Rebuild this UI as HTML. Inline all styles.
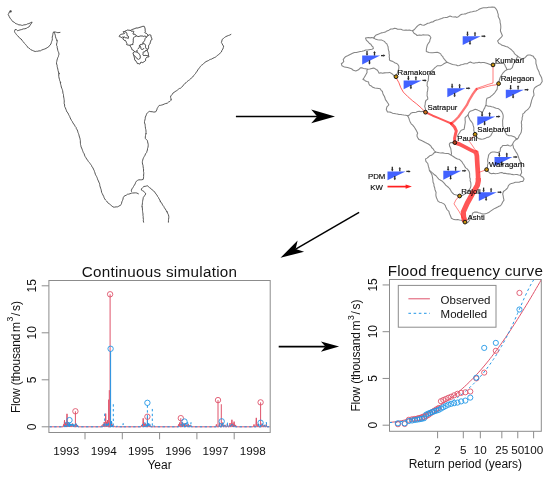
<!DOCTYPE html><html><head><meta charset="utf-8"><style>html,body{margin:0;padding:0;background:#fff;}svg{display:block;}text{font-family:'Liberation Sans', Arial, Helvetica, sans-serif;}</style></head><body>
<svg width="550" height="477" viewBox="0 0 550 477">
<rect width="550" height="477" fill="#fff"/>
<g fill="none" stroke="#4d4d4d" stroke-width="0.95" stroke-linejoin="round" stroke-linecap="round">
<polyline points="10.70,11.30 9.40,11.90 8.88,13.19 8.20,14.40 9.10,16.30 10.10,18.20 11.14,19.35 11.90,20.70 12.92,21.59 14.16,22.20 15.10,23.20 16.36,23.78 17.66,24.27 18.90,24.90 20.16,24.85 21.37,25.24 22.60,25.40 23.81,24.87 25.13,24.77 26.40,24.50 27.58,23.85 28.90,23.60 30.80,22.60 32.10,22.00 31.64,23.14 30.87,24.09 30.20,25.10 28.90,27.00 27.57,27.51 26.40,28.30 24.89,28.78 23.30,28.90 21.74,29.53 20.10,29.90 18.83,30.29 17.60,30.80 16.40,29.50 15.10,29.50 14.50,31.40 14.94,32.58 15.73,33.55 16.40,34.60 17.69,35.81 18.90,37.10 19.76,38.30 21.13,39.01 22.00,40.20 22.69,41.38 23.75,42.27 24.50,43.40 25.47,44.32 26.32,45.35 27.00,46.50 28.01,47.23 28.80,48.22 29.95,48.78 30.80,49.70 32.25,50.34 33.71,50.96 35.20,51.50 36.47,51.29 37.75,51.22 39.00,50.83 40.30,50.90 41.68,50.06 43.18,49.50 44.70,49.00 45.97,48.45 47.15,47.70 48.40,47.10 49.16,46.01 50.10,45.06 50.90,44.00 51.31,42.73 51.67,41.43 52.20,40.20 52.35,38.65 52.20,37.10 52.60,35.87 52.80,34.60 53.03,33.27 53.50,32.00 55.30,32.00 56.59,32.39 57.90,32.70 60.00,32.40"/>
<polyline points="54.20,32.20 54.74,33.70 55.30,35.20 55.47,36.79 56.00,38.30 56.50,39.60 57.20,40.80 57.00,42.42 56.60,44.00 56.56,45.30 57.19,46.50 57.20,47.80 57.57,49.02 57.74,50.30 58.20,51.50 58.77,52.80 59.00,54.20 58.61,55.34 58.42,56.54 57.80,57.60 57.39,58.85 57.02,60.12 56.79,61.42 56.50,62.70 56.58,64.02 57.11,65.24 57.18,66.56 57.49,67.83 57.80,69.10 58.09,70.58 58.49,72.03 58.80,73.50 58.73,75.01 58.78,76.51 59.10,78.00 59.44,79.27 59.67,80.57 60.29,81.77 60.40,83.10 60.68,84.41 61.09,85.68 61.30,87.01 61.77,88.27 62.30,89.50 62.65,90.74 62.84,92.01 62.94,93.30 63.49,94.50 63.50,95.80 63.66,97.08 63.94,98.34 64.11,99.62 64.28,100.90 64.20,102.20 64.20,103.61 64.65,104.98 64.60,106.40 65.35,107.82 65.92,109.31 66.50,110.80 66.98,112.03 67.96,112.98 68.44,114.21 69.04,115.37 69.70,116.50 70.17,117.87 70.84,119.13 71.46,120.42 72.36,121.57 72.90,122.90 73.73,124.00 74.56,125.11 75.14,126.39 76.10,127.40 76.36,128.75 77.21,129.89 77.68,131.17 78.00,132.50 78.51,133.60 78.89,134.74 79.15,135.92 79.48,137.07 79.90,138.20 80.14,139.45 80.39,140.70 80.30,141.98 80.45,143.23 80.50,144.50 80.87,145.67 81.09,146.89 81.61,148.01 82.09,149.14 82.50,150.30 82.95,151.52 83.42,152.73 84.21,153.81 84.50,155.10 85.10,156.48 85.93,157.72 86.66,159.02 87.60,160.20 88.28,161.39 89.24,162.37 90.04,163.47 90.80,164.60 91.62,165.63 92.04,166.88 92.94,167.87 93.40,169.10 94.08,170.30 94.49,171.60 94.98,172.87 95.30,174.20 95.87,175.31 96.50,176.39 97.03,177.52 97.46,178.69 97.80,179.90 98.46,180.95 98.81,182.12 99.44,183.18 99.70,184.40 99.82,185.71 100.24,186.95 100.60,188.20 101.10,189.53 101.39,190.90 101.60,192.30 102.29,193.62 102.91,194.97 103.65,196.27 104.10,197.70 104.78,198.90 105.54,200.05 106.57,200.99 107.39,202.10 108.20,203.20 109.29,203.80 110.24,204.56 111.13,205.42 112.11,206.15 113.00,207.00 114.57,207.16 116.13,206.83 117.70,207.00 118.70,206.01 120.10,205.58 121.10,204.60 121.58,203.24 121.87,201.81 122.50,200.50 122.99,199.14 123.21,197.69 123.90,196.40 125.04,195.71 126.29,195.20 127.30,194.30 128.69,194.15 130.02,193.75 131.32,193.21 132.70,193.00 134.07,192.93 135.43,192.83 136.80,193.00 138.40,193.80"/>
<polyline points="131.50,191.40 131.30,190.80 131.90,188.90 132.85,187.71 133.58,186.38 134.40,185.10 135.16,183.90 135.59,182.53 136.30,181.30 137.48,180.43 138.80,179.80 140.28,179.82 141.76,179.77 143.20,179.40 143.51,177.95 143.62,176.48 143.60,175.00 143.76,173.75 143.72,172.50 143.46,171.25 143.60,170.00 143.41,168.43 143.13,166.88 143.00,165.30 142.57,164.07 142.37,162.80 142.40,161.50 142.69,160.17 143.08,158.86 143.60,157.60 144.32,156.38 145.07,155.17 145.50,153.80 146.70,152.40 146.94,151.16 147.45,149.98 147.50,148.70 147.97,147.27 148.19,145.80 148.20,144.30 147.90,143.08 147.60,141.86 147.50,140.60 146.30,139.60 145.30,138.40 145.32,136.93 145.50,135.48 145.89,134.06 146.00,132.60 146.02,131.10 145.82,129.63 145.46,128.18 145.30,126.70 145.18,125.41 145.05,124.13 144.49,122.91 144.50,121.60 144.85,120.11 145.24,118.64 145.30,117.10 145.90,115.95 146.35,114.75 146.70,113.50 147.69,112.76 148.60,111.90 149.70,111.30 150.87,111.68 152.12,111.68 153.30,112.00 155.50,112.00 156.18,110.97 156.81,109.91 157.10,108.68 157.70,107.60 158.41,106.47 159.20,105.40 160.47,105.39 161.69,105.04 162.90,104.70 164.31,104.04 165.77,103.52 167.30,103.20 168.43,102.10 169.89,101.43 171.00,100.30 171.05,98.86 170.62,97.45 170.70,96.00 171.56,95.13 172.36,94.21 172.90,93.10 174.04,92.44 175.06,91.59 176.21,90.95 177.30,90.20 178.30,89.30 179.36,88.50 180.73,88.14 181.70,87.20 182.76,86.05 183.71,84.81 184.70,83.60 186.04,82.77 187.08,81.57 188.30,80.60 189.52,79.84 190.60,78.93 191.51,77.79 192.70,77.00 193.60,75.69 194.62,74.47 195.70,73.30 196.32,72.13 197.19,71.12 197.77,69.93 198.60,68.90 199.57,67.64 200.46,66.32 201.60,65.20 202.83,64.46 203.75,63.34 204.89,62.48 206.00,61.60 207.12,61.09 208.29,60.68 209.28,59.91 210.40,59.40 211.76,59.02 212.95,58.25 214.23,57.69 215.50,57.10 216.47,56.38 217.29,55.44 218.40,54.90 219.38,53.91 220.29,52.85 221.40,52.00 221.88,50.44 222.80,49.10 223.34,47.64 223.60,46.10 222.73,44.99 222.12,43.71 221.40,42.50 221.86,41.03 222.10,39.50 223.35,38.56 224.51,37.50 225.80,36.60 227.08,36.06 228.36,35.53 229.68,35.08 230.90,34.40"/>
<polyline points="143.60,222.20 143.30,220.79 143.43,219.35 143.17,217.93 143.20,216.50 142.94,215.26 143.04,213.98 142.75,212.75 142.60,211.50 142.48,210.25 142.43,208.98 142.35,207.73 142.00,206.50 142.12,205.22 142.36,203.96 142.45,202.68 142.60,201.40 142.81,200.17 143.10,198.95 143.20,197.70 144.50,195.80 145.80,193.90 144.83,192.66 143.90,191.40 142.66,190.74 141.40,190.10 141.40,188.90 142.64,187.64 143.90,186.40 145.17,186.38 146.39,186.03 147.60,185.70 148.42,186.78 149.50,187.60 151.40,188.90 152.31,190.09 153.62,190.88 154.60,192.00 155.41,193.08 156.09,194.27 157.10,195.20 157.58,196.51 158.53,197.58 159.00,198.90 159.76,199.87 160.23,201.02 160.80,202.10 161.62,203.02 162.18,204.10 162.70,205.20 163.74,206.35 164.36,207.78 165.30,209.00 166.08,210.33 167.10,211.50 167.57,213.17 168.40,214.70 168.77,216.23 168.80,217.80 168.56,219.26 168.45,220.73 168.40,222.20"/>
</g>
<circle cx="10.6" cy="11.4" r="1.15" fill="#444"/>
<circle cx="56.9" cy="40.2" r="0.7" fill="#555"/>
<circle cx="59.2" cy="73.5" r="0.75" fill="#555"/>
<circle cx="60.6" cy="82.4" r="0.6" fill="#555"/>
<circle cx="160.3" cy="201.6" r="0.6" fill="#555"/>
<circle cx="166.6" cy="211.6" r="0.6" fill="#555"/>
<circle cx="142.2" cy="206.8" r="0.65" fill="#555"/>
<circle cx="146.1" cy="133.5" r="0.6" fill="#555"/>
<circle cx="171.2" cy="99.5" r="0.5" fill="#555"/>
<g fill="none" stroke="#1a1a1a" stroke-width="0.85" stroke-linejoin="round">
<polyline points="124.51,31.71 124.17,31.64 123.62,31.64 123.14,31.71 123.28,32.07 123.62,32.44 124.02,32.81 124.37,33.25 124.43,33.55 123.93,33.71 123.50,33.79 122.90,33.95 122.28,34.09 121.66,34.23 121.04,34.39 120.63,34.60 120.23,34.83 119.72,35.16 119.51,35.50 119.61,35.81 119.20,36.22 119.31,36.58 119.72,36.81 120.23,36.88 120.75,37.04 121.16,37.37 121.56,37.48 122.00,37.29 122.31,36.94 122.80,37.04 123.49,37.18 124.17,37.04 124.68,37.08 125.10,37.36 125.36,37.88 125.92,37.90 126.52,37.80 127.11,37.74 127.45,37.97 127.77,38.30 128.12,38.50"/>
<polyline points="124.51,31.71 124.58,31.49 124.86,31.20 125.39,30.97 126.08,30.76 126.63,30.46 127.27,30.13 127.87,30.00 128.38,30.16 129.19,30.28 130.02,30.34 130.81,30.44 131.46,29.77 132.08,29.28 132.68,29.46 133.30,29.13 134.11,28.90 134.73,28.56 135.30,28.35 136.12,28.13 136.93,27.86 137.55,28.02 138.06,28.09 138.58,27.69 139.20,27.51 140.02,27.25 140.83,27.02 141.45,26.81 142.07,26.48 142.67,26.41 143.45,26.32 144.17,26.30 144.48,26.69 144.68,27.25 144.77,27.91 144.99,28.35 145.08,29.00 145.20,29.67 145.13,30.34 145.30,30.88 145.46,31.32 145.08,31.78 144.68,32.21 144.89,32.65 145.39,32.99 146.01,33.20 146.63,33.53 147.11,33.97 147.42,34.44 147.72,34.72 147.94,34.90 148.25,35.15 148.57,35.32 149.09,35.20 149.50,34.74 150.01,34.71 150.51,34.92 150.82,35.36 150.92,35.90 151.02,36.46 151.13,37.01 151.44,37.67 151.64,38.23 151.85,38.67 151.95,39.32 151.64,39.88 151.02,40.22 150.61,40.66 150.51,41.09 150.61,41.76 150.32,42.38 150.15,43.03 150.01,43.64 149.70,44.13 149.19,44.59 148.78,45.03 148.67,45.68 148.57,46.34 148.57,47.22 148.57,47.89 148.38,48.55 148.07,49.22 147.86,49.43 147.35,49.87 147.12,50.36 147.27,51.01 147.59,51.59 147.97,52.26 148.18,52.92 148.38,53.57 148.59,54.03 148.47,54.68 148.59,55.35 148.38,55.78 148.78,56.12 149.00,56.45 148.78,56.89 148.18,57.03 147.56,57.03 146.94,57.22 146.44,57.63 146.23,58.12 145.93,58.40 145.62,58.64 145.51,59.08 145.62,59.72 145.72,60.15 145.51,60.49 145.31,60.93 144.69,61.36 144.07,61.70 143.47,62.14 142.95,62.47 142.44,62.59 141.82,62.42 141.32,62.26 140.90,62.26 140.59,62.47 140.39,63.03 140.08,63.73 139.77,64.14 139.36,64.01"/>
<polyline points="147.12,50.36 146.84,50.66 146.32,50.47 145.51,50.57 145.15,51.01 145.10,51.59 144.69,51.82 144.17,51.69 143.57,51.82 143.26,52.15 143.14,52.70 143.05,53.26 143.14,53.70 142.95,54.57 142.88,54.80"/>
<polyline points="142.88,54.80 143.03,55.05 143.45,55.45 144.29,55.52 145.10,55.35 145.92,55.45 146.75,55.57 147.56,55.68 148.38,55.78"/>
<polyline points="147.94,34.90 147.71,35.48 147.45,36.01 147.20,36.46 147.07,36.90 146.73,37.20 146.19,37.27 145.88,37.48 145.57,37.81 145.31,38.25 145.12,38.59 144.99,38.99 144.84,39.66"/>
<polyline points="143.93,36.43 144.24,36.20 144.64,36.15 145.17,36.13 145.67,36.15 145.83,36.37 146.08,36.92 146.19,37.23"/>
<polyline points="130.81,30.44 131.05,30.88 131.56,31.27 132.27,31.21 133.09,31.18 133.61,31.32 133.80,31.65 133.61,32.32 133.25,32.88 133.09,33.53 133.06,34.09 133.50,34.27 134.11,34.30 134.83,34.20 135.19,34.36 135.71,34.92 136.02,35.46 136.43,35.97 137.05,36.23 137.65,36.41 138.17,36.57 138.99,36.36 139.71,36.23 140.23,35.90 140.83,36.13 141.66,35.97 142.48,36.02 143.03,36.18 143.44,36.36 143.93,36.43"/>
<polyline points="124.51,31.71 124.71,31.86 125.12,32.00 125.80,32.07 126.23,32.30 126.63,32.74 126.83,33.25 126.89,33.85 126.98,34.43 127.01,35.02 127.04,35.57 127.76,35.93 128.44,36.39 128.59,36.90 128.38,37.78 128.12,38.50"/>
<polyline points="136.43,35.97 135.91,36.23 135.40,36.57 134.88,36.57 134.47,36.90 134.07,37.34 133.71,37.60 133.43,38.37 133.40,38.88 133.20,39.78 133.30,40.66 133.20,41.53 133.30,42.43 132.99,42.67 132.89,43.03 132.79,43.69 132.92,44.46 132.92,44.73"/>
<polyline points="123.49,37.18 123.31,37.95 122.97,38.60 122.72,38.97 123.14,39.25 123.65,39.43 123.83,39.99 124.33,40.36 125.02,40.53 125.54,40.62 125.92,41.09 126.05,41.64 126.32,42.24 126.55,42.74 126.89,43.29 126.94,43.46 126.63,43.80 126.53,44.24 126.73,44.67 127.56,44.90 128.59,45.13 129.40,45.24 130.02,45.34"/>
<polyline points="130.02,45.34 130.84,44.80 131.65,44.62 132.48,44.57 132.92,44.73"/>
<polyline points="130.02,45.34 130.22,45.78 130.43,46.45 130.84,47.01 131.34,47.78 131.65,48.43 131.56,48.99 131.87,49.54 132.27,49.71 132.89,50.05 133.61,50.48 133.92,50.92 134.33,51.45 134.55,51.71"/>
<polyline points="134.55,51.71 134.11,52.12 133.40,52.59 132.92,52.92 132.99,53.36 133.30,53.73 133.40,54.24 133.54,54.91 133.87,55.49 134.03,56.01 134.13,56.68 134.29,57.33 134.42,58.00 134.65,58.82 134.70,59.72 134.99,60.38 135.52,60.59 135.92,60.82 136.23,61.36 136.43,61.80 136.74,62.14 136.95,62.80 137.15,63.35 137.57,63.58 138.17,63.58 138.79,63.68 139.10,64.01 139.36,64.01"/>
<polyline points="133.58,54.96 133.95,55.29 134.33,55.66 134.86,56.19 135.39,56.68 135.92,57.12 136.27,57.59 136.67,57.94 137.00,58.38 137.33,58.91 137.81,59.22 138.48,59.43"/>
<polyline points="134.55,51.71 134.95,51.80 135.43,51.87 136.02,51.92 136.62,51.99 137.10,52.26 137.46,52.50 137.81,52.77 138.14,52.94 138.60,53.13 139.00,53.70 139.31,54.24 139.72,54.68 140.03,55.12 140.13,55.78 140.23,56.45 140.32,57.33 140.23,58.03 139.53,58.91 138.71,59.43"/>
<polyline points="137.10,52.26 137.16,51.99 137.10,51.48 137.05,51.10 136.87,50.71 136.80,50.33 136.98,50.06 137.46,50.06 137.70,50.06"/>
<polyline points="139.85,45.24 139.59,45.46 139.38,45.68 139.38,46.11 139.38,46.71 139.28,47.36 139.22,47.73 138.86,47.83 138.66,47.99 138.45,48.38 138.27,48.64 138.12,48.99"/>
<polyline points="139.85,45.24 140.00,44.80 140.19,44.57 140.60,44.43 141.03,44.20 141.43,44.36 141.84,44.57 142.17,44.73 142.43,44.24 142.66,43.74 142.80,43.38 142.85,42.60 142.95,42.27 143.41,42.11 143.83,41.73 144.24,41.29 144.60,40.73 144.64,40.29 144.84,39.71"/>
<polyline points="139.85,45.24 140.00,45.68 140.19,46.11 140.47,46.48 140.68,47.01 140.81,47.59 140.88,48.18 141.01,48.61"/>
<polyline points="142.80,43.57 143.19,43.67 143.96,43.83 144.73,44.08 145.20,44.45 145.49,44.94 145.59,45.53 145.49,46.20 145.51,46.87 145.64,47.47 145.95,48.22 146.13,48.66 146.54,48.87 147.24,48.99 147.86,49.43"/>
<polyline points="141.01,48.61 141.29,49.06 141.53,49.36 142.04,49.47 142.62,49.36 143.19,49.13 143.57,48.83 143.81,48.34 143.93,48.03"/>
</g>
<line x1="235.9" y1="116.4" x2="317.20" y2="116.40" stroke="#000" stroke-width="1.5"/>
<polygon points="335.00,116.40 311.20,123.20 317.20,116.40 311.20,109.60" fill="#000"/>
<line x1="359.1" y1="212.4" x2="295.65" y2="249.05" stroke="#000" stroke-width="1.5"/>
<polygon points="280.50,257.80 297.60,240.42 295.65,249.05 304.10,251.67" fill="#000"/>
<line x1="278.7" y1="346.6" x2="325.40" y2="346.60" stroke="#000" stroke-width="1.7"/>
<polygon points="339.10,346.60 320.90,351.70 325.40,346.60 320.90,341.50" fill="#000"/>
<g fill="none" stroke="#858585" stroke-width="1.05" stroke-linejoin="round" stroke-linecap="round">
<polyline points="373.90,38.00 371.80,37.60 370.10,37.89 368.40,37.60 365.50,38.00 366.30,40.10 368.40,42.20 369.45,43.48 370.90,44.30 371.66,45.79 373.00,46.80 373.40,48.50 371.91,49.17 370.30,49.40 367.70,49.90 365.76,50.00 364.00,50.80 362.12,51.28 360.20,51.60 358.30,52.01 356.40,52.40 354.41,52.47 352.60,53.30 350.10,54.50 347.60,55.80 345.91,56.52 344.50,57.70 343.20,59.60 343.80,61.40 342.73,62.75 341.30,63.70 342.00,65.80 344.50,67.10 346.06,67.25 347.60,67.50 349.20,67.96 350.80,68.40 352.13,69.25 353.30,70.30 355.80,70.90 358.50,69.80 360.40,67.80 361.95,67.86 363.40,68.40 365.53,68.66 367.60,69.20 369.73,68.97 371.80,68.40 373.37,68.12 374.90,68.60 376.18,69.44 377.50,70.20 378.34,71.68 379.10,73.20 380.81,72.86 382.50,73.30 384.33,72.87 386.20,72.70 388.01,72.65 389.80,72.40 391.90,73.70 393.90,75.60 396.00,76.70"/>
<polyline points="373.90,38.00 374.30,36.80 376.00,35.10 377.65,34.46 379.30,33.80 381.30,32.86 383.50,32.60 385.37,32.10 386.90,30.90 388.95,30.16 390.80,29.00 392.72,29.02 394.50,28.30 396.14,28.45 397.60,29.20 399.29,29.25 400.98,29.30 402.60,29.90 404.29,30.22 406.01,29.92 407.70,30.20 409.34,30.11 410.91,30.54 412.50,30.80 414.06,29.77 415.34,28.45 416.50,27.00 417.65,25.91 418.87,24.91 420.30,24.20 422.06,25.02 424.00,25.20 425.93,24.30 427.80,23.30 429.51,23.02 431.05,22.12 432.80,22.00 434.54,20.73 436.60,20.10 438.40,19.64 440.10,18.90 441.75,18.41 443.35,17.70 445.10,17.60 446.87,17.44 448.46,16.70 450.10,16.10 451.94,16.78 453.90,17.00 455.49,16.87 457.00,17.40 458.77,16.48 460.20,15.10 462.01,14.26 464.00,14.10 465.75,13.88 467.32,13.06 469.00,12.60 470.63,12.04 472.34,11.77 474.00,11.30 476.00,11.03 477.80,10.10 479.62,8.98 481.60,8.20 483.42,7.71 485.30,7.80 486.90,7.65 488.48,7.26 490.10,7.30 492.29,6.94 494.50,7.20 496.40,9.40 497.25,10.90 497.60,12.60 498.26,14.44 498.20,16.40 499.50,18.90 500.04,20.71 500.10,22.60 500.60,24.47 500.80,26.40 500.76,28.32 500.40,30.20 500.70,31.81 501.40,33.30 502.40,35.80 501.38,37.21 500.10,38.40 498.85,39.65 497.60,40.90 498.90,43.40 500.58,44.13 502.00,45.30 503.94,45.78 505.80,46.50 507.87,47.11 509.60,48.40 511.18,49.50 512.50,50.90 513.77,52.03 514.40,53.60 516.30,55.20 517.60,56.20 519.50,57.60 521.50,58.60 523.14,58.43 524.70,57.90 525.98,56.63 527.20,55.30 528.73,54.95 530.30,55.10 531.86,55.68 533.40,56.30 534.07,57.76 535.30,58.80 535.91,60.29 535.90,61.90 535.95,63.55 536.50,65.10 536.90,66.64 537.20,68.20 538.15,70.10 539.10,72.00 539.45,73.69 540.30,75.20 541.60,77.70 541.98,79.54 542.20,81.40 541.25,83.00 540.30,84.60 538.33,85.42 536.50,86.50 534.98,87.48 534.00,89.00 533.40,91.50 533.82,93.38 534.00,95.30 532.86,96.93 532.20,98.80 531.54,100.61 531.20,102.50 530.64,104.22 530.30,106.00 529.41,107.44 528.40,108.80 526.93,110.19 525.30,111.40 524.30,112.90 522.80,113.90 522.74,115.81 522.10,117.60 522.14,119.55 521.50,121.40 521.31,123.07 521.70,124.73 521.50,126.40 521.77,128.30 521.50,130.20 521.22,132.20 520.30,134.00 519.11,135.78 518.40,137.80 517.10,139.00 515.36,140.02 514.00,141.50 513.18,142.84 512.60,144.30 513.22,146.11 513.50,148.00 514.68,149.54 515.50,151.30 516.79,153.11 517.80,155.10 518.48,156.99 519.10,158.90 519.96,160.67 520.30,162.60 521.60,165.20 521.29,167.06 520.90,168.90 521.44,170.77 521.60,172.70 520.30,175.20 521.33,176.44 522.80,177.10 524.10,179.00 522.80,181.50 520.87,181.53 519.10,182.30 517.20,182.26 515.30,182.30 513.46,183.05 511.50,183.40 509.73,184.25 508.40,185.70 507.89,187.16 507.10,188.50 505.30,190.10 503.40,191.50 502.70,194.00 503.16,195.78 503.40,197.60 504.00,200.10 502.70,202.00 501.50,204.50 500.45,205.67 499.02,206.25 497.70,207.00 495.81,207.97 493.90,208.90 492.05,210.15 490.20,211.40 488.72,212.56 487.00,213.30 485.45,213.65 483.90,214.00 481.90,213.88 480.10,213.00 478.50,212.73 477.00,212.10 474.40,212.10 472.50,213.30 472.21,215.02 471.30,216.50 470.42,218.53 469.40,220.50 467.50,222.80 465.00,222.10"/>
<polyline points="512.60,144.30 510.90,146.00 509.18,145.80 507.70,144.90 506.08,145.48 504.39,145.46 502.70,145.50 501.76,146.89 500.50,148.00 500.28,149.64 500.20,151.30 497.70,152.60 496.10,152.23 494.50,151.90 492.61,152.05 490.80,152.60 488.90,154.50 488.43,156.02 488.20,157.60 487.73,159.17 487.60,160.80 488.20,163.30 487.51,164.90 487.49,166.65 487.00,168.30 486.60,169.60"/>
<polyline points="486.60,169.60 487.50,171.00 488.89,172.05 490.10,173.30 491.77,173.82 493.52,173.29 495.20,173.70 496.90,173.54 498.56,173.15 500.20,172.70 501.91,172.54 503.50,173.37 505.20,173.30 506.86,173.84 508.59,173.87 510.30,174.00 511.94,174.39 513.60,174.65 515.30,174.60 517.00,174.51 518.63,175.02 520.30,175.20"/>
<polyline points="517.60,56.20 516.90,57.85 516.20,59.50 515.16,60.87 514.60,62.50 513.64,63.68 513.10,65.10 512.30,67.60 510.20,69.30 508.52,69.24 506.90,69.70 505.00,70.90 503.10,72.80 501.50,75.30 500.30,77.20 499.50,79.50 498.98,81.38 498.60,83.30"/>
<polyline points="493.00,64.90 494.90,63.60 497.40,63.30 499.01,63.56 500.60,63.20 502.15,63.40 503.70,63.30 504.70,64.60 505.31,66.22 506.20,67.70 506.90,69.50"/>
<polyline points="412.50,30.80 414.00,33.30 415.68,34.22 417.10,35.50 419.27,34.98 421.50,35.20 423.15,34.84 424.83,34.96 426.50,35.00 428.18,35.09 429.70,35.80 430.90,37.70 430.04,39.52 429.70,41.50 428.56,43.07 427.50,44.70 426.90,46.52 426.50,48.40 426.30,49.99 426.30,51.60 429.00,52.60 430.89,52.84 432.80,52.80 435.00,52.49 437.20,52.20 439.40,53.10 440.75,53.89 441.36,55.40 442.60,56.30 443.38,57.95 444.50,59.40 445.75,60.85 447.00,62.30 448.89,63.08 450.80,63.80 452.62,64.42 454.50,64.80 456.19,64.92 457.70,65.70 459.41,65.48 460.99,64.71 462.70,64.50 464.85,63.81 467.10,63.80 468.60,62.69 470.30,61.90 472.09,62.72 474.00,63.20 475.66,62.67 477.43,62.79 479.10,62.30 480.74,62.78 482.43,62.50 484.10,62.60 485.82,62.96 487.50,63.50 490.00,64.50 491.50,64.68 493.00,64.90"/>
<polyline points="373.90,38.00 375.10,38.90 377.60,39.70 379.69,40.05 381.80,40.10 384.40,41.40 385.50,42.80 386.90,43.90 387.41,45.39 388.10,46.80 388.19,48.51 388.50,50.20 389.08,51.80 389.00,53.50 389.38,55.18 389.20,56.90 389.50,58.44 389.40,60.00 390.78,60.88 392.40,61.26 393.80,62.10 395.17,63.01 396.81,63.50 398.00,64.70 398.79,66.05 398.90,67.60 398.65,69.31 397.90,70.90 397.60,72.60 396.66,74.59 396.00,76.70"/>
<polyline points="447.00,62.30 445.34,62.92 443.80,63.80 442.34,64.89 440.70,65.70 439.10,65.69 437.50,65.70 436.27,66.67 435.00,67.60 433.77,68.87 432.50,70.10 430.30,71.60 430.02,73.18 428.87,74.42 428.60,76.00 428.40,78.90 428.23,80.66 427.23,82.21 427.20,84.00 427.05,85.71 427.98,87.29 427.80,89.00 427.63,90.67 427.15,92.30 427.20,94.00 427.03,95.74 427.64,97.40 427.80,99.10 425.90,100.50 425.30,102.50 425.18,104.43 424.70,106.30 425.33,108.46 425.50,110.70 425.50,112.20"/>
<polyline points="367.60,69.20 366.89,70.58 367.09,72.19 366.50,73.60 365.39,75.42 364.40,77.30 362.90,79.40 364.35,79.96 365.50,81.00 367.04,81.52 368.60,82.00 368.81,83.72 369.70,85.20 371.41,86.01 372.80,87.30 374.84,88.05 377.00,88.30 378.60,88.56 380.20,88.80 381.11,90.35 382.50,91.50 382.74,93.09 383.30,94.60 384.34,96.20 385.00,98.00 385.41,99.59 386.40,100.90 387.46,102.44 388.50,104.00 388.80,105.00 386.90,106.90 386.30,109.40 387.50,111.90 389.29,111.96 391.00,112.38 392.60,113.20 394.18,113.52 395.76,113.81 397.36,114.02 398.90,114.50 400.60,114.41 402.25,114.78 403.90,115.10 405.82,115.25 407.70,115.70"/>
<polyline points="407.70,115.70 409.51,114.90 410.82,113.29 412.70,112.60 414.41,112.46 416.09,112.20 417.70,111.60 419.38,111.20 421.12,111.74 422.80,111.30 425.50,112.20"/>
<polyline points="407.70,115.70 408.90,118.20 409.39,120.16 410.20,122.00 411.20,123.80 412.70,125.20 413.87,126.57 414.85,128.07 415.80,129.60 416.83,131.41 417.70,133.30 417.01,134.83 417.10,136.50 417.99,138.09 419.00,139.60 421.50,140.60 423.45,141.45 425.30,142.50 426.80,143.28 428.32,144.01 429.70,145.00 430.94,146.03 431.60,147.50 433.09,148.80 434.10,150.50 435.50,152.00"/>
<polyline points="435.50,152.00 433.98,152.95 432.80,154.30 431.42,155.35 429.68,155.80 428.40,157.00 427.06,158.12 425.50,158.90 425.90,161.40 427.80,163.50 428.40,166.40 429.03,168.26 429.30,170.20 430.29,171.85 431.30,173.50 432.04,174.92 432.30,176.50 432.70,178.38 432.90,180.30 433.05,182.25 433.90,184.00 434.00,185.96 434.70,187.80 434.93,189.44 435.53,190.96 436.10,192.50 435.87,194.22 435.95,195.92 436.40,197.60 437.26,199.52 438.20,201.40 439.74,202.16 441.40,202.60 443.90,203.90 445.16,205.26 445.80,207.00 447.00,209.50 448.90,211.40 449.37,213.36 450.20,215.20 450.84,216.74 451.40,218.30 454.00,219.60 455.85,219.80 457.70,219.60 459.58,220.01 461.50,220.20 463.40,222.10 465.00,222.10"/>
<polyline points="429.50,170.50 431.80,172.40 433.07,173.32 434.10,174.50 435.99,175.73 437.40,177.50 438.78,179.16 440.60,180.30 442.43,181.31 443.90,182.80 444.97,184.14 446.00,185.50 447.33,186.40 448.50,187.50 449.63,188.65 450.50,190.00 451.34,191.61 452.50,193.00 453.80,194.23 455.50,194.80 457.60,195.22 459.60,196.00"/>
<polyline points="435.50,152.00 437.90,152.50 439.38,152.82 440.90,152.90 442.71,152.89 444.50,153.20 446.35,153.45 448.20,153.60 449.69,154.27 451.10,155.10 453.30,156.50 455.50,158.00 457.50,159.00 459.00,159.30 460.30,160.10 461.76,161.53 462.80,163.30 463.95,164.73 464.70,166.40 465.72,167.88 467.20,168.90 468.15,170.15 469.10,171.40 469.62,173.27 469.70,175.20 469.68,177.15 470.30,179.00 470.11,180.71 470.74,182.33 470.90,184.00 470.89,186.04 470.30,188.00 469.41,189.41 468.40,190.71 467.17,191.83 466.00,193.00 464.50,194.28 462.77,195.18 461.00,196.00"/>
<polyline points="451.10,155.10 451.50,153.60 451.10,150.70 450.80,148.50 449.70,146.30 449.30,144.10 450.40,142.60 453.30,142.60 454.80,142.60"/>
<polyline points="468.00,115.10 466.40,116.40 465.10,117.60 465.10,120.10 465.29,121.80 465.10,123.50 464.75,125.34 464.50,127.20 464.10,129.30 461.90,129.90 460.70,130.80 459.40,133.00 458.30,134.50 457.40,136.50"/>
<polyline points="468.00,115.10 468.90,112.60 470.10,111.30 472.60,110.50 475.20,109.20 477.70,110.10 480.20,111.30 482.20,112.20 483.27,110.95 483.80,109.40 484.68,108.09 485.20,106.60 486.10,104.50 486.18,102.30 486.40,100.10 487.00,98.20 489.80,97.30 491.06,96.15 492.40,95.10 493.66,93.86 494.90,92.60 495.92,90.94 497.10,89.40 497.40,86.90 497.88,85.21 498.60,83.60"/>
<polyline points="468.00,115.10 468.90,117.60 470.10,120.10 471.80,122.20 472.77,123.56 473.10,125.20 473.67,126.81 473.90,128.50 473.73,130.24 474.30,131.90 475.10,134.30"/>
<polyline points="486.10,105.60 488.50,106.20 490.12,106.21 491.63,106.80 493.20,107.10 494.74,107.67 496.25,108.31 497.90,108.50 499.48,109.37 500.80,110.60 501.85,111.90 502.60,113.40 503.10,115.07 503.20,116.80 502.98,118.71 502.60,120.60 502.69,122.50 502.70,124.40 502.75,126.18 503.50,127.80 503.88,129.35 504.49,130.79 505.40,132.10 506.50,134.60 509.00,135.80 511.21,135.77 513.30,136.50 514.77,137.02 515.74,138.31 517.10,139.00"/>
<polyline points="475.10,134.30 475.69,135.77 476.80,136.90 478.30,138.60 479.85,138.88 481.40,139.20 483.21,138.97 485.00,138.60 486.61,137.58 488.50,137.30 490.80,135.60 491.47,134.16 492.30,132.80 493.00,131.00"/>
</g>
<g fill="none" stroke-linejoin="round" stroke-linecap="round">
<polyline points="396.00,77.50 398.90,82.70 400.80,87.70 403.30,92.10 407.70,96.50 412.70,100.90 416.50,103.80 421.50,108.20 425.00,111.70" stroke="#ff2020" stroke-opacity="0.8" stroke-width="0.9"/>
<polyline points="425.50,112.40 429.00,113.80 432.80,115.70 437.50,117.60 445.10,120.80 451.20,123.50" stroke="#ff2020" stroke-opacity="0.75" stroke-width="2.0"/>
<polyline points="493.00,66.50 493.00,83.00 488.60,84.30 482.30,86.50 476.40,88.50" stroke="#ff2020" stroke-opacity="0.65" stroke-width="0.9"/>
<polyline points="496.80,84.70 491.70,85.40 485.40,87.00 479.10,88.70 476.20,89.90" stroke="#ff2020" stroke-opacity="0.65" stroke-width="0.9"/>
<polyline points="476.50,89.00 472.80,94.20 469.00,100.50 466.80,105.20 462.60,111.10 458.40,117.00 454.20,121.20 451.20,123.50" stroke="#ff2020" stroke-opacity="0.62" stroke-width="2.3"/>
<polyline points="451.20,123.50 454.50,127.00 456.30,130.90 455.40,134.50 454.60,138.20 454.80,142.60" stroke="#ff2020" stroke-opacity="0.75" stroke-width="3.0"/>
<polyline points="475.10,134.30 469.20,141.20 472.00,145.00 474.50,148.80 476.90,151.80" stroke="#ff2020" stroke-opacity="0.7" stroke-width="0.8"/>
<polyline points="486.60,169.60 479.20,172.30" stroke="#ff2020" stroke-opacity="0.7" stroke-width="0.8"/>
<polyline points="459.60,196.00 458.40,197.00 455.80,200.10 454.00,203.90 456.50,207.60 459.00,211.40 461.50,215.80 464.20,221.00" stroke="#ff2020" stroke-opacity="0.7" stroke-width="0.8"/>
</g>
<g fill="none" stroke="#ff2020" opacity="0.76" stroke-linejoin="miter" stroke-linecap="butt">
<polyline points="454.80,142.60 459.20,144.10 464.30,146.60 470.00,149.60 476.20,152.60" stroke-width="3.8"/>
<polyline points="474.60,151.80 476.20,152.60 476.90,156.00 477.10,160.00 477.40,165.20 477.90,172.70 478.30,181.00" stroke-width="4.7"/>
<polyline points="478.30,178.00 478.30,181.00 477.40,185.20 472.20,194.20 467.40,203.00 463.30,212.00 463.60,217.00 465.00,221.50" stroke-width="5.2"/>
</g>
<polygon points="362.2,55.6 380.2,55.6 362.2,64.5" fill="#4262ff"/>
<line x1="367.0" y1="51.0" x2="367.0" y2="54.2" stroke="#2a2a2a" stroke-width="1.3"/>
<polygon points="365.75,53.800000000000004 368.25,53.800000000000004 367.0,55.7" fill="#2a2a2a"/>
<line x1="374.5" y1="55.5" x2="374.5" y2="52.6" stroke="#2a2a2a" stroke-width="1.3"/>
<polygon points="373.25,52.9 375.75,52.9 374.5,51.1" fill="#2a2a2a"/>
<line x1="369.5" y1="60.2" x2="369.5" y2="63.1" stroke="#2a2a2a" stroke-width="1.3"/>
<polygon points="368.25,62.7 370.75,62.7 369.5,64.5" fill="#2a2a2a"/>
<line x1="381.0" y1="55.6" x2="383.8" y2="55.6" stroke="#2a2a2a" stroke-width="1.3"/>
<polygon points="383.4,54.35 383.4,56.85 385.3,55.6" fill="#2a2a2a"/>
<polygon points="462.7,36.2 480.7,36.2 462.7,45.1" fill="#4262ff"/>
<line x1="467.5" y1="31.6" x2="467.5" y2="34.800000000000004" stroke="#2a2a2a" stroke-width="1.3"/>
<polygon points="466.25,34.400000000000006 468.75,34.400000000000006 467.5,36.300000000000004" fill="#2a2a2a"/>
<line x1="475.0" y1="36.1" x2="475.0" y2="33.2" stroke="#2a2a2a" stroke-width="1.3"/>
<polygon points="473.75,33.5 476.25,33.5 475.0,31.700000000000003" fill="#2a2a2a"/>
<line x1="470.0" y1="40.800000000000004" x2="470.0" y2="43.7" stroke="#2a2a2a" stroke-width="1.3"/>
<polygon points="468.75,43.300000000000004 471.25,43.300000000000004 470.0,45.1" fill="#2a2a2a"/>
<line x1="481.5" y1="36.2" x2="484.3" y2="36.2" stroke="#2a2a2a" stroke-width="1.3"/>
<polygon points="483.9,34.95 483.9,37.45 485.8,36.2" fill="#2a2a2a"/>
<polygon points="403.6,80.4 421.6,80.4 403.6,89.30000000000001" fill="#4262ff"/>
<line x1="408.40000000000003" y1="75.80000000000001" x2="408.40000000000003" y2="79.0" stroke="#2a2a2a" stroke-width="1.3"/>
<polygon points="407.15000000000003,78.60000000000001 409.65000000000003,78.60000000000001 408.40000000000003,80.5" fill="#2a2a2a"/>
<line x1="415.90000000000003" y1="80.30000000000001" x2="415.90000000000003" y2="77.4" stroke="#2a2a2a" stroke-width="1.3"/>
<polygon points="414.65000000000003,77.7 417.15000000000003,77.7 415.90000000000003,75.9" fill="#2a2a2a"/>
<line x1="410.90000000000003" y1="85.0" x2="410.90000000000003" y2="87.9" stroke="#2a2a2a" stroke-width="1.3"/>
<polygon points="409.65000000000003,87.5 412.15000000000003,87.5 410.90000000000003,89.30000000000001" fill="#2a2a2a"/>
<line x1="422.40000000000003" y1="80.4" x2="425.20000000000005" y2="80.4" stroke="#2a2a2a" stroke-width="1.3"/>
<polygon points="424.8,79.15 424.8,81.65 426.70000000000005,80.4" fill="#2a2a2a"/>
<polygon points="447.3,88.3 465.3,88.3 447.3,97.2" fill="#4262ff"/>
<line x1="452.1" y1="83.7" x2="452.1" y2="86.89999999999999" stroke="#2a2a2a" stroke-width="1.3"/>
<polygon points="450.85,86.5 453.35,86.5 452.1,88.39999999999999" fill="#2a2a2a"/>
<line x1="459.6" y1="88.2" x2="459.6" y2="85.3" stroke="#2a2a2a" stroke-width="1.3"/>
<polygon points="458.35,85.6 460.85,85.6 459.6,83.8" fill="#2a2a2a"/>
<line x1="454.6" y1="92.89999999999999" x2="454.6" y2="95.8" stroke="#2a2a2a" stroke-width="1.3"/>
<polygon points="453.35,95.39999999999999 455.85,95.39999999999999 454.6,97.2" fill="#2a2a2a"/>
<line x1="466.1" y1="88.3" x2="468.90000000000003" y2="88.3" stroke="#2a2a2a" stroke-width="1.3"/>
<polygon points="468.5,87.05 468.5,89.55 470.40000000000003,88.3" fill="#2a2a2a"/>
<polygon points="505.8,89.7 523.8,89.7 505.8,98.60000000000001" fill="#4262ff"/>
<line x1="510.6" y1="85.10000000000001" x2="510.6" y2="88.3" stroke="#2a2a2a" stroke-width="1.3"/>
<polygon points="509.35,87.9 511.85,87.9 510.6,89.8" fill="#2a2a2a"/>
<line x1="518.1" y1="89.60000000000001" x2="518.1" y2="86.7" stroke="#2a2a2a" stroke-width="1.3"/>
<polygon points="516.85,87.0 519.35,87.0 518.1,85.2" fill="#2a2a2a"/>
<line x1="513.1" y1="94.3" x2="513.1" y2="97.2" stroke="#2a2a2a" stroke-width="1.3"/>
<polygon points="511.85,96.8 514.35,96.8 513.1,98.60000000000001" fill="#2a2a2a"/>
<line x1="524.5999999999999" y1="89.7" x2="527.4" y2="89.7" stroke="#2a2a2a" stroke-width="1.3"/>
<polygon points="527.0,88.45 527.0,90.95 528.9,89.7" fill="#2a2a2a"/>
<polygon points="477.3,116.6 495.3,116.6 477.3,125.5" fill="#4262ff"/>
<line x1="482.1" y1="112.0" x2="482.1" y2="115.19999999999999" stroke="#2a2a2a" stroke-width="1.3"/>
<polygon points="480.85,114.8 483.35,114.8 482.1,116.69999999999999" fill="#2a2a2a"/>
<line x1="489.6" y1="116.5" x2="489.6" y2="113.6" stroke="#2a2a2a" stroke-width="1.3"/>
<polygon points="488.35,113.89999999999999 490.85,113.89999999999999 489.6,112.1" fill="#2a2a2a"/>
<line x1="484.6" y1="121.19999999999999" x2="484.6" y2="124.1" stroke="#2a2a2a" stroke-width="1.3"/>
<polygon points="483.35,123.69999999999999 485.85,123.69999999999999 484.6,125.5" fill="#2a2a2a"/>
<line x1="496.1" y1="116.6" x2="498.90000000000003" y2="116.6" stroke="#2a2a2a" stroke-width="1.3"/>
<polygon points="498.5,115.35 498.5,117.85 500.40000000000003,116.6" fill="#2a2a2a"/>
<polygon points="443.3,170.8 461.3,170.8 443.3,179.70000000000002" fill="#4262ff"/>
<line x1="448.1" y1="166.20000000000002" x2="448.1" y2="169.4" stroke="#2a2a2a" stroke-width="1.3"/>
<polygon points="446.85,169.0 449.35,169.0 448.1,170.9" fill="#2a2a2a"/>
<line x1="455.6" y1="170.70000000000002" x2="455.6" y2="167.8" stroke="#2a2a2a" stroke-width="1.3"/>
<polygon points="454.35,168.10000000000002 456.85,168.10000000000002 455.6,166.3" fill="#2a2a2a"/>
<line x1="450.6" y1="175.4" x2="450.6" y2="178.3" stroke="#2a2a2a" stroke-width="1.3"/>
<polygon points="449.35,177.9 451.85,177.9 450.6,179.70000000000002" fill="#2a2a2a"/>
<line x1="462.1" y1="170.8" x2="464.90000000000003" y2="170.8" stroke="#2a2a2a" stroke-width="1.3"/>
<polygon points="464.5,169.55 464.5,172.05 466.40000000000003,170.8" fill="#2a2a2a"/>
<polygon points="494.5,157.0 512.5,157.0 494.5,165.9" fill="#4262ff"/>
<line x1="499.3" y1="152.4" x2="499.3" y2="155.6" stroke="#2a2a2a" stroke-width="1.3"/>
<polygon points="498.05,155.2 500.55,155.2 499.3,157.1" fill="#2a2a2a"/>
<line x1="506.8" y1="156.9" x2="506.8" y2="154.0" stroke="#2a2a2a" stroke-width="1.3"/>
<polygon points="505.55,154.3 508.05,154.3 506.8,152.5" fill="#2a2a2a"/>
<line x1="501.8" y1="161.6" x2="501.8" y2="164.5" stroke="#2a2a2a" stroke-width="1.3"/>
<polygon points="500.55,164.1 503.05,164.1 501.8,165.9" fill="#2a2a2a"/>
<line x1="513.3" y1="157.0" x2="516.1" y2="157.0" stroke="#2a2a2a" stroke-width="1.3"/>
<polygon points="515.7,155.75 515.7,158.25 517.6,157.0" fill="#2a2a2a"/>
<polygon points="478.8,192.2 496.8,192.2 478.8,201.1" fill="#4262ff"/>
<line x1="483.6" y1="187.6" x2="483.6" y2="190.79999999999998" stroke="#2a2a2a" stroke-width="1.3"/>
<polygon points="482.35,190.39999999999998 484.85,190.39999999999998 483.6,192.29999999999998" fill="#2a2a2a"/>
<line x1="491.1" y1="192.1" x2="491.1" y2="189.2" stroke="#2a2a2a" stroke-width="1.3"/>
<polygon points="489.85,189.5 492.35,189.5 491.1,187.7" fill="#2a2a2a"/>
<line x1="486.1" y1="196.79999999999998" x2="486.1" y2="199.7" stroke="#2a2a2a" stroke-width="1.3"/>
<polygon points="484.85,199.29999999999998 487.35,199.29999999999998 486.1,201.1" fill="#2a2a2a"/>
<line x1="497.6" y1="192.2" x2="500.40000000000003" y2="192.2" stroke="#2a2a2a" stroke-width="1.3"/>
<polygon points="500.0,190.95 500.0,193.45 501.90000000000003,192.2" fill="#2a2a2a"/>
<polygon points="387.5,171.4 405.5,171.4 387.5,180.3" fill="#4262ff"/>
<line x1="392.3" y1="166.8" x2="392.3" y2="170.0" stroke="#2a2a2a" stroke-width="1.3"/>
<polygon points="391.05,169.6 393.55,169.6 392.3,171.5" fill="#2a2a2a"/>
<line x1="399.8" y1="171.3" x2="399.8" y2="168.4" stroke="#2a2a2a" stroke-width="1.3"/>
<polygon points="398.55,168.70000000000002 401.05,168.70000000000002 399.8,166.9" fill="#2a2a2a"/>
<line x1="394.8" y1="176.0" x2="394.8" y2="178.9" stroke="#2a2a2a" stroke-width="1.3"/>
<polygon points="393.55,178.5 396.05,178.5 394.8,180.3" fill="#2a2a2a"/>
<line x1="406.3" y1="171.4" x2="409.1" y2="171.4" stroke="#2a2a2a" stroke-width="1.3"/>
<polygon points="408.7,170.15 408.7,172.65 410.6,171.4" fill="#2a2a2a"/>
<circle cx="396" cy="76.7" r="1.9" fill="#c9920e" stroke="#111" stroke-width="0.95"/>
<circle cx="493" cy="64.9" r="1.9" fill="#c9920e" stroke="#111" stroke-width="0.95"/>
<circle cx="498.6" cy="83.6" r="1.9" fill="#c9920e" stroke="#111" stroke-width="0.95"/>
<circle cx="425.5" cy="112.2" r="1.9" fill="#d0701a" stroke="#111" stroke-width="0.95"/>
<circle cx="454.8" cy="142.6" r="1.9" fill="#b5441c" stroke="#111" stroke-width="0.95"/>
<circle cx="475.1" cy="134.3" r="1.9" fill="#c9920e" stroke="#111" stroke-width="0.95"/>
<circle cx="486.6" cy="169.6" r="1.9" fill="#c9920e" stroke="#111" stroke-width="0.95"/>
<circle cx="459.6" cy="196" r="1.9" fill="#c9920e" stroke="#111" stroke-width="0.95"/>
<circle cx="465" cy="222.1" r="1.9" fill="#c9920e" stroke="#111" stroke-width="0.95"/>
<g font-size="7.8" fill="#000" stroke="#000" stroke-width="0.12">
<text x="397.6" y="74.5">Ramakona</text>
<text x="495.0" y="62.6">Kumhari</text>
<text x="500.7" y="81.4">Rajegaon</text>
<text x="427.5" y="110.0">Satrapur</text>
<text x="457.3" y="140.7">Pauni</text>
<text x="477.3" y="132.2">Salebardi</text>
<text x="488.9" y="167.0">Wairagarh</text>
<text x="461.3" y="193.6">Rajoli</text>
<text x="467.5" y="220.2">Ashti</text>
<text x="376.7" y="179.1" text-anchor="middle">PDM</text>
<text x="376.6" y="189.7" text-anchor="middle">KW</text>
</g>
<line x1="387.5" y1="186.6" x2="407" y2="186.6" stroke="#ff2020" stroke-width="1.7"/>
<polygon points="411.9,186.6 405.6,184.4 405.6,188.8" fill="#ff2020"/>
<text x="159.5" y="276.6" font-size="15.2" letter-spacing="0.3" text-anchor="middle" fill="#111">Continuous simulation</text>
<path d="M49.40,426.80 L63.10,426.80 L63.60,424.45 L64.10,426.80 L64.00,426.80 L64.50,420.22 L65.00,426.80 L64.90,426.80 L65.40,423.04 L65.90,426.80 L65.70,426.80 L66.20,423.98 L66.70,426.80 L66.50,426.80 L67.00,413.83 L67.50,426.80 L67.30,426.80 L67.80,422.10 L68.30,426.80 L68.30,426.80 L68.80,423.51 L69.30,426.80 L69.50,426.80 L70.00,423.98 L70.50,426.80 L70.70,426.80 L71.20,424.45 L71.70,426.80 L72.10,426.80 L72.60,423.51 L73.10,426.80 L73.30,426.80 L73.80,424.92 L74.30,426.80 L75.90,426.80 L76.40,423.98 L76.90,426.80 L77.10,426.80 L77.60,425.39 L78.10,426.80 L101.50,426.80 L102.00,425.39 L102.50,426.80 L102.70,426.80 L103.20,423.98 L103.70,426.80 L103.70,426.80 L104.20,422.10 L104.70,426.80 L105.20,426.80 L105.70,413.64 L106.20,426.80 L106.10,426.80 L106.60,422.10 L107.10,426.80 L107.00,426.80 L107.50,420.22 L108.00,426.80 L110.70,426.80 L111.20,421.16 L111.70,426.80 L111.70,426.80 L112.20,424.45 L112.70,426.80 L113.50,426.80 L114.00,425.86 L114.50,426.80 L141.10,426.80 L141.60,424.92 L142.10,426.80 L142.70,426.80 L143.20,418.34 L143.70,426.80 L143.90,426.80 L144.40,423.98 L144.90,426.80 L145.10,426.80 L145.60,423.51 L146.10,426.80 L148.30,426.80 L148.80,423.98 L149.30,426.80 L149.70,426.80 L150.20,425.39 L150.70,426.80 L178.10,426.80 L178.60,424.45 L179.10,426.80 L179.10,426.80 L179.60,422.57 L180.10,426.80 L181.50,426.80 L182.00,422.10 L182.50,426.80 L182.70,426.80 L183.20,423.98 L183.70,426.80 L184.50,426.80 L185.00,423.04 L185.50,426.80 L186.00,426.80 L186.50,424.92 L187.00,426.80 L187.70,426.80 L188.20,423.98 L188.70,426.80 L190.00,426.80 L190.50,425.39 L191.00,426.80 L215.90,426.80 L216.40,424.45 L216.90,426.80 L219.10,426.80 L219.60,423.04 L220.10,426.80 L222.10,426.80 L222.60,422.57 L223.10,426.80 L224.00,426.80 L224.50,424.92 L225.00,426.80 L226.90,426.80 L227.40,423.98 L227.90,426.80 L229.50,426.80 L230.00,423.04 L230.50,426.80 L231.40,426.80 L231.90,419.75 L232.40,426.80 L232.50,426.80 L233.00,423.51 L233.50,426.80 L233.60,426.80 L234.10,421.63 L234.60,426.80 L235.10,426.80 L235.60,424.92 L236.10,426.80 L253.50,426.80 L254.00,424.45 L254.50,426.80 L255.80,426.80 L256.30,417.87 L256.80,426.80 L257.50,426.80 L258.00,423.98 L258.50,426.80 L261.50,426.80 L262.00,423.51 L262.50,426.80 L263.50,426.80 L264.00,424.92 L264.50,426.80 L265.80,426.80 L266.30,424.45 L266.80,426.80 L269.70,426.80" fill="none" stroke="#DF536B" stroke-width="1" stroke-linejoin="round"/>
<line x1="75.4" y1="411.29" x2="75.4" y2="426.80" stroke="#DF536B" stroke-width="1"/>
<line x1="108.6" y1="399.54" x2="108.6" y2="426.80" stroke="#DF536B" stroke-width="1"/>
<line x1="109.3" y1="390.14" x2="109.3" y2="426.80" stroke="#DF536B" stroke-width="1"/>
<line x1="110.1" y1="294.26" x2="110.1" y2="426.80" stroke="#DF536B" stroke-width="1"/>
<line x1="147.4" y1="416.74" x2="147.4" y2="426.80" stroke="#DF536B" stroke-width="1"/>
<line x1="180.8" y1="418.15" x2="180.8" y2="426.80" stroke="#DF536B" stroke-width="1"/>
<line x1="218.0" y1="400.10" x2="218.0" y2="426.80" stroke="#DF536B" stroke-width="1"/>
<line x1="221.3" y1="404.24" x2="221.3" y2="426.80" stroke="#DF536B" stroke-width="1"/>
<line x1="260.6" y1="402.36" x2="260.6" y2="426.80" stroke="#DF536B" stroke-width="1"/>
<path d="M49.40,426.80 L64.30,426.80 L64.80,423.98 L65.30,426.80 L65.50,426.80 L66.00,422.10 L66.50,426.80 L66.70,426.80 L67.20,423.51 L67.70,426.80 L67.70,426.80 L68.20,422.57 L68.70,426.80 L70.30,426.80 L70.80,422.57 L71.30,426.80 L71.50,426.80 L72.00,423.98 L72.50,426.80 L72.70,426.80 L73.20,423.04 L73.70,426.80 L73.90,426.80 L74.40,424.45 L74.90,426.80 L75.40,426.80 L75.90,423.51 L76.40,426.80 L76.80,426.80 L77.30,423.98 L77.80,426.80 L103.10,426.80 L103.60,424.45 L104.10,426.80 L105.90,426.80 L106.40,422.57 L106.90,426.80 L106.90,426.80 L107.40,423.98 L107.90,426.80 L107.90,426.80 L108.40,422.10 L108.90,426.80 L111.10,426.80 L111.60,420.22 L112.10,426.80 L111.80,426.80 L112.30,423.98 L112.80,426.80 L116.50,426.80 L117.00,425.86 L117.50,426.80 L122.70,426.80 L123.20,423.51 L123.70,426.80 L142.10,426.80 L142.60,423.98 L143.10,426.80 L144.30,426.80 L144.80,422.57 L145.30,426.80 L145.70,426.80 L146.20,423.51 L146.70,426.80 L148.10,426.80 L148.60,422.10 L149.10,426.80 L149.50,426.80 L150.00,423.98 L150.50,426.80 L153.50,426.80 L154.00,425.39 L154.50,426.80 L180.70,426.80 L181.20,423.98 L181.70,426.80 L182.30,426.80 L182.80,422.57 L183.30,426.80 L185.50,426.80 L186.00,423.04 L186.50,426.80 L187.10,426.80 L187.60,422.10 L188.10,426.80 L188.90,426.80 L189.40,423.98 L189.90,426.80 L190.50,426.80 L191.00,422.57 L191.50,426.80 L219.00,426.80 L219.50,423.98 L220.00,426.80 L222.70,426.80 L223.20,423.04 L223.70,426.80 L225.00,426.80 L225.50,424.92 L226.00,426.80 L227.00,426.80 L227.50,422.57 L228.00,426.80 L229.50,426.80 L230.00,424.92 L230.50,426.80 L231.50,426.80 L232.00,423.98 L232.50,426.80 L233.50,426.80 L234.00,424.92 L234.50,426.80 L258.00,426.80 L258.50,423.98 L259.00,426.80 L262.00,426.80 L262.50,423.98 L263.00,426.80 L264.00,426.80 L264.50,424.92 L265.00,426.80 L265.80,426.80 L266.30,422.10 L266.80,426.80 L269.70,426.80" fill="none" stroke="#2297E6" stroke-width="1" stroke-dasharray="2.4,2.4" stroke-linejoin="round"/>
<line x1="104.7" y1="413.64" x2="104.7" y2="426.80" stroke="#2297E6" stroke-width="1" stroke-dasharray="2.4,2.4"/>
<line x1="113.3" y1="404.24" x2="113.3" y2="426.80" stroke="#2297E6" stroke-width="1" stroke-dasharray="2.4,2.4"/>
<line x1="152.3" y1="408.94" x2="152.3" y2="426.80" stroke="#2297E6" stroke-width="1" stroke-dasharray="2.4,2.4"/>
<line x1="69.5" y1="422.73" x2="69.5" y2="426.80" stroke="#2297E6" stroke-width="1"/>
<line x1="110.6" y1="351.38" x2="110.6" y2="426.80" stroke="#2297E6" stroke-width="1"/>
<line x1="147.4" y1="414.58" x2="147.4" y2="426.80" stroke="#2297E6" stroke-width="1"/>
<line x1="147.4" y1="405.43" x2="147.4" y2="414.58" stroke="#2297E6" stroke-width="1" stroke-dasharray="2.4,2.4"/>
<line x1="184.5" y1="424.14" x2="184.5" y2="426.80" stroke="#2297E6" stroke-width="1"/>
<line x1="221.7" y1="423.95" x2="221.7" y2="426.80" stroke="#2297E6" stroke-width="1"/>
<line x1="260.6" y1="425.36" x2="260.6" y2="426.80" stroke="#2297E6" stroke-width="1"/>
<circle cx="75.4" cy="411.29" r="2.7" fill="none" stroke="#DF536B" stroke-width="0.9"/>
<circle cx="110.1" cy="294.26" r="2.7" fill="none" stroke="#DF536B" stroke-width="0.9"/>
<circle cx="147.4" cy="416.74" r="2.7" fill="none" stroke="#DF536B" stroke-width="0.9"/>
<circle cx="180.8" cy="418.15" r="2.7" fill="none" stroke="#DF536B" stroke-width="0.9"/>
<circle cx="218.0" cy="400.10" r="2.7" fill="none" stroke="#DF536B" stroke-width="0.9"/>
<circle cx="260.6" cy="402.36" r="2.7" fill="none" stroke="#DF536B" stroke-width="0.9"/>
<circle cx="69.5" cy="420.13" r="2.7" fill="none" stroke="#2297E6" stroke-width="0.9"/>
<circle cx="110.6" cy="348.78" r="2.7" fill="none" stroke="#2297E6" stroke-width="0.9"/>
<circle cx="147.4" cy="402.83" r="2.7" fill="none" stroke="#2297E6" stroke-width="0.9"/>
<circle cx="184.5" cy="421.54" r="2.7" fill="none" stroke="#2297E6" stroke-width="0.9"/>
<circle cx="221.7" cy="421.35" r="2.7" fill="none" stroke="#2297E6" stroke-width="0.9"/>
<circle cx="260.6" cy="422.76" r="2.7" fill="none" stroke="#2297E6" stroke-width="0.9"/>
<rect x="48.9" y="280.5" width="221.30" height="152.00" fill="none" stroke="#8c8c8c" stroke-width="1"/>
<line x1="41.7" y1="426.80" x2="48.9" y2="426.80" stroke="#8c8c8c" stroke-width="1"/>
<text transform="translate(35.9,426.80) rotate(-90)" font-size="12" text-anchor="middle" fill="#111">0</text>
<line x1="41.7" y1="379.80" x2="48.9" y2="379.80" stroke="#8c8c8c" stroke-width="1"/>
<text transform="translate(35.9,379.80) rotate(-90)" font-size="12" text-anchor="middle" fill="#111">5</text>
<line x1="41.7" y1="332.80" x2="48.9" y2="332.80" stroke="#8c8c8c" stroke-width="1"/>
<text transform="translate(35.9,332.80) rotate(-90)" font-size="12" text-anchor="middle" fill="#111">10</text>
<line x1="41.7" y1="285.80" x2="48.9" y2="285.80" stroke="#8c8c8c" stroke-width="1"/>
<text transform="translate(35.9,285.80) rotate(-90)" font-size="12" text-anchor="middle" fill="#111">15</text>
<line x1="85.00" y1="432.5" x2="85.00" y2="439.3" stroke="#8c8c8c" stroke-width="1"/>
<line x1="122.30" y1="432.5" x2="122.30" y2="439.3" stroke="#8c8c8c" stroke-width="1"/>
<line x1="159.60" y1="432.5" x2="159.60" y2="439.3" stroke="#8c8c8c" stroke-width="1"/>
<line x1="196.90" y1="432.5" x2="196.90" y2="439.3" stroke="#8c8c8c" stroke-width="1"/>
<line x1="234.20" y1="432.5" x2="234.20" y2="439.3" stroke="#8c8c8c" stroke-width="1"/>
<text x="66.35" y="455.0" font-size="11.7" text-anchor="middle" fill="#111">1993</text>
<text x="103.65" y="455.0" font-size="11.7" text-anchor="middle" fill="#111">1994</text>
<text x="140.95" y="455.0" font-size="11.7" text-anchor="middle" fill="#111">1995</text>
<text x="178.25" y="455.0" font-size="11.7" text-anchor="middle" fill="#111">1996</text>
<text x="215.55" y="455.0" font-size="11.7" text-anchor="middle" fill="#111">1997</text>
<text x="252.85" y="455.0" font-size="11.7" text-anchor="middle" fill="#111">1998</text>
<text x="159.5" y="469.2" font-size="12" text-anchor="middle" fill="#111">Year</text>
<text transform="translate(19.70,413.00) rotate(-90)" font-size="12" fill="#111" textLength="79.5" lengthAdjust="spacing">Flow (thousand</text>
<text transform="translate(19.70,332.00) rotate(-90)" font-size="12" fill="#111">m</text>
<text transform="translate(13.40,321.50) rotate(-90)" font-size="8.6" fill="#111">3</text>
<text transform="translate(19.70,316.10) rotate(-90)" font-size="12" fill="#111">/</text>
<text transform="translate(19.70,310.90) rotate(-90)" font-size="12" fill="#111">s)</text>
<text x="465.4" y="275.6" font-size="15.2" letter-spacing="0.25" text-anchor="middle" fill="#111">Flood frequency curve</text>
<clipPath id="c2"><rect x="389.5" y="279.5" width="151.80" height="151.80"/></clipPath>
<g clip-path="url(#c2)">
<polyline points="389.50,422.44 391.21,422.27 392.91,422.08 394.62,421.85 396.32,421.61 398.03,421.33 399.73,421.03 401.44,420.71 403.14,420.35 404.85,419.97 406.56,419.55 408.26,419.11 409.97,418.65 411.67,418.15 413.38,417.62 415.08,417.06 416.79,416.47 418.50,415.86 420.20,415.21 421.91,414.53 423.61,413.82 425.32,413.08 427.02,412.30 428.73,411.50 430.43,410.66 432.14,409.79 433.85,408.88 435.55,407.95 437.26,406.98 438.96,405.97 440.67,404.93 442.37,403.86 444.08,402.75 445.79,401.61 447.49,400.43 449.20,399.22 450.90,397.97 452.61,396.68 454.31,395.36 456.02,394.00 457.72,392.60 459.43,391.17 461.14,389.69 462.84,388.18 464.55,386.64 466.25,385.05 467.96,383.42 469.66,381.76 471.37,380.05 473.08,378.31 474.78,376.52 476.49,374.70 478.19,372.83 479.90,370.93 481.60,368.98 483.31,366.99 485.01,364.96 486.72,362.89 488.43,360.77 490.13,358.62 491.84,356.43 493.54,354.20 495.25,351.93 496.95,349.63 498.66,347.29 500.37,344.91 502.07,342.51 503.78,340.07 505.48,337.59 507.19,335.09 508.89,332.55 510.60,329.99 512.30,327.40 514.01,324.78 515.72,322.13 517.42,319.45 519.13,316.76 520.83,314.03 522.54,311.28 524.24,308.51 525.95,305.72 527.66,302.91 529.36,300.07 531.07,297.22 532.77,294.35 534.48,291.46 536.18,288.56 537.89,285.63 539.59,282.70 541.30,279.74" fill="none" stroke="#DF536B" stroke-width="1"/>
<polyline points="389.50,422.52 391.12,422.48 392.74,422.41 394.36,422.30 395.99,422.17 397.61,422.01 399.23,421.81 400.85,421.59 402.47,421.34 404.09,421.06 405.71,420.75 407.33,420.41 408.96,420.04 410.58,419.65 412.20,419.23 413.82,418.78 415.44,418.31 417.06,417.81 418.68,417.28 420.31,416.73 421.93,416.15 423.55,415.55 425.17,414.93 426.79,414.28 428.41,413.60 430.03,412.91 431.66,412.19 433.28,411.45 434.90,410.68 436.52,409.89 438.14,409.09 439.76,408.26 441.38,407.40 443.00,406.53 444.63,405.63 446.25,404.71 447.87,403.76 449.49,402.78 451.11,401.77 452.73,400.73 454.35,399.66 455.98,398.55 457.60,397.40 459.22,396.22 460.84,394.99 462.46,393.73 464.08,392.42 465.70,391.06 467.32,389.66 468.95,388.21 470.57,386.72 472.19,385.17 473.81,383.57 475.43,381.91 477.05,380.20 478.67,378.43 480.30,376.60 481.92,374.71 483.54,372.75 485.16,370.74 486.78,368.65 488.40,366.50 490.02,364.27 491.64,361.98 493.27,359.60 494.89,357.15 496.51,354.62 498.13,352.00 499.75,349.30 501.37,346.52 502.99,343.64 504.62,340.67 506.24,337.61 507.86,334.45 509.48,331.19 511.10,327.83 512.72,324.37 514.34,320.80 515.97,317.14 517.59,313.42 519.21,309.67 520.83,305.91 522.45,302.19 524.07,298.53 525.69,294.97 527.31,291.53 528.94,288.25 530.56,285.15 532.18,282.28 533.80,279.67" fill="none" stroke="#2297E6" stroke-width="1" stroke-dasharray="2.6,2.6"/>
</g>
<circle cx="397.93" cy="424.20" r="2.6" fill="none" stroke="#DF536B" stroke-width="0.9"/>
<circle cx="404.67" cy="424.00" r="2.6" fill="none" stroke="#DF536B" stroke-width="0.9"/>
<circle cx="408.82" cy="419.80" r="2.6" fill="none" stroke="#DF536B" stroke-width="0.9"/>
<circle cx="412.08" cy="419.30" r="2.6" fill="none" stroke="#DF536B" stroke-width="0.9"/>
<circle cx="414.88" cy="418.90" r="2.6" fill="none" stroke="#DF536B" stroke-width="0.9"/>
<circle cx="417.39" cy="418.50" r="2.6" fill="none" stroke="#DF536B" stroke-width="0.9"/>
<circle cx="419.73" cy="418.10" r="2.6" fill="none" stroke="#DF536B" stroke-width="0.9"/>
<circle cx="421.94" cy="417.60" r="2.6" fill="none" stroke="#DF536B" stroke-width="0.9"/>
<circle cx="424.08" cy="417.00" r="2.6" fill="none" stroke="#DF536B" stroke-width="0.9"/>
<circle cx="426.17" cy="416.20" r="2.6" fill="none" stroke="#DF536B" stroke-width="0.9"/>
<circle cx="428.22" cy="415.00" r="2.6" fill="none" stroke="#DF536B" stroke-width="0.9"/>
<circle cx="430.27" cy="413.50" r="2.6" fill="none" stroke="#DF536B" stroke-width="0.9"/>
<circle cx="432.32" cy="412.00" r="2.6" fill="none" stroke="#DF536B" stroke-width="0.9"/>
<circle cx="434.40" cy="410.60" r="2.6" fill="none" stroke="#DF536B" stroke-width="0.9"/>
<circle cx="436.52" cy="409.30" r="2.6" fill="none" stroke="#DF536B" stroke-width="0.9"/>
<circle cx="438.69" cy="408.00" r="2.6" fill="none" stroke="#DF536B" stroke-width="0.9"/>
<circle cx="440.94" cy="401.20" r="2.6" fill="none" stroke="#DF536B" stroke-width="0.9"/>
<circle cx="443.28" cy="400.00" r="2.6" fill="none" stroke="#DF536B" stroke-width="0.9"/>
<circle cx="445.74" cy="399.00" r="2.6" fill="none" stroke="#DF536B" stroke-width="0.9"/>
<circle cx="448.34" cy="397.80" r="2.6" fill="none" stroke="#DF536B" stroke-width="0.9"/>
<circle cx="451.12" cy="396.70" r="2.6" fill="none" stroke="#DF536B" stroke-width="0.9"/>
<circle cx="454.14" cy="395.30" r="2.6" fill="none" stroke="#DF536B" stroke-width="0.9"/>
<circle cx="457.44" cy="393.80" r="2.6" fill="none" stroke="#DF536B" stroke-width="0.9"/>
<circle cx="461.13" cy="392.90" r="2.6" fill="none" stroke="#DF536B" stroke-width="0.9"/>
<circle cx="465.33" cy="392.30" r="2.6" fill="none" stroke="#DF536B" stroke-width="0.9"/>
<circle cx="470.27" cy="391.50" r="2.6" fill="none" stroke="#DF536B" stroke-width="0.9"/>
<circle cx="476.31" cy="378.40" r="2.6" fill="none" stroke="#DF536B" stroke-width="0.9"/>
<circle cx="484.20" cy="372.60" r="2.6" fill="none" stroke="#DF536B" stroke-width="0.9"/>
<circle cx="495.83" cy="350.80" r="2.6" fill="none" stroke="#DF536B" stroke-width="0.9"/>
<circle cx="519.46" cy="292.90" r="2.6" fill="none" stroke="#DF536B" stroke-width="0.9"/>
<circle cx="397.93" cy="423.30" r="2.6" fill="none" stroke="#2297E6" stroke-width="0.9"/>
<circle cx="404.67" cy="423.30" r="2.6" fill="none" stroke="#2297E6" stroke-width="0.9"/>
<circle cx="408.82" cy="421.00" r="2.6" fill="none" stroke="#2297E6" stroke-width="0.9"/>
<circle cx="412.08" cy="420.50" r="2.6" fill="none" stroke="#2297E6" stroke-width="0.9"/>
<circle cx="414.88" cy="420.00" r="2.6" fill="none" stroke="#2297E6" stroke-width="0.9"/>
<circle cx="417.39" cy="419.60" r="2.6" fill="none" stroke="#2297E6" stroke-width="0.9"/>
<circle cx="419.73" cy="419.20" r="2.6" fill="none" stroke="#2297E6" stroke-width="0.9"/>
<circle cx="421.94" cy="418.80" r="2.6" fill="none" stroke="#2297E6" stroke-width="0.9"/>
<circle cx="424.08" cy="418.20" r="2.6" fill="none" stroke="#2297E6" stroke-width="0.9"/>
<circle cx="426.17" cy="414.60" r="2.6" fill="none" stroke="#2297E6" stroke-width="0.9"/>
<circle cx="428.22" cy="413.60" r="2.6" fill="none" stroke="#2297E6" stroke-width="0.9"/>
<circle cx="430.27" cy="412.80" r="2.6" fill="none" stroke="#2297E6" stroke-width="0.9"/>
<circle cx="432.32" cy="412.00" r="2.6" fill="none" stroke="#2297E6" stroke-width="0.9"/>
<circle cx="434.40" cy="411.30" r="2.6" fill="none" stroke="#2297E6" stroke-width="0.9"/>
<circle cx="436.52" cy="410.60" r="2.6" fill="none" stroke="#2297E6" stroke-width="0.9"/>
<circle cx="438.69" cy="409.90" r="2.6" fill="none" stroke="#2297E6" stroke-width="0.9"/>
<circle cx="440.94" cy="408.60" r="2.6" fill="none" stroke="#2297E6" stroke-width="0.9"/>
<circle cx="443.28" cy="407.30" r="2.6" fill="none" stroke="#2297E6" stroke-width="0.9"/>
<circle cx="445.74" cy="406.00" r="2.6" fill="none" stroke="#2297E6" stroke-width="0.9"/>
<circle cx="448.34" cy="404.70" r="2.6" fill="none" stroke="#2297E6" stroke-width="0.9"/>
<circle cx="451.12" cy="403.80" r="2.6" fill="none" stroke="#2297E6" stroke-width="0.9"/>
<circle cx="454.14" cy="403.20" r="2.6" fill="none" stroke="#2297E6" stroke-width="0.9"/>
<circle cx="457.44" cy="402.60" r="2.6" fill="none" stroke="#2297E6" stroke-width="0.9"/>
<circle cx="461.13" cy="401.40" r="2.6" fill="none" stroke="#2297E6" stroke-width="0.9"/>
<circle cx="465.33" cy="400.60" r="2.6" fill="none" stroke="#2297E6" stroke-width="0.9"/>
<circle cx="470.27" cy="397.60" r="2.6" fill="none" stroke="#2297E6" stroke-width="0.9"/>
<circle cx="476.31" cy="377.70" r="2.6" fill="none" stroke="#2297E6" stroke-width="0.9"/>
<circle cx="484.20" cy="347.90" r="2.6" fill="none" stroke="#2297E6" stroke-width="0.9"/>
<circle cx="495.83" cy="342.90" r="2.6" fill="none" stroke="#2297E6" stroke-width="0.9"/>
<circle cx="519.46" cy="309.50" r="2.6" fill="none" stroke="#2297E6" stroke-width="0.9"/>
<rect x="389.5" y="279.5" width="151.80" height="151.80" fill="none" stroke="#8c8c8c" stroke-width="1"/>
<line x1="382.6" y1="425.20" x2="389.5" y2="425.20" stroke="#8c8c8c" stroke-width="1"/>
<text transform="translate(376.5,425.20) rotate(-90)" font-size="12" text-anchor="middle" fill="#111">0</text>
<line x1="382.6" y1="378.45" x2="389.5" y2="378.45" stroke="#8c8c8c" stroke-width="1"/>
<text transform="translate(376.5,378.45) rotate(-90)" font-size="12" text-anchor="middle" fill="#111">5</text>
<line x1="382.6" y1="331.70" x2="389.5" y2="331.70" stroke="#8c8c8c" stroke-width="1"/>
<text transform="translate(376.5,331.70) rotate(-90)" font-size="12" text-anchor="middle" fill="#111">10</text>
<line x1="382.6" y1="284.95" x2="389.5" y2="284.95" stroke="#8c8c8c" stroke-width="1"/>
<text transform="translate(376.5,284.95) rotate(-90)" font-size="12" text-anchor="middle" fill="#111">15</text>
<line x1="437.60" y1="431.3" x2="437.60" y2="438.3" stroke="#8c8c8c" stroke-width="1"/>
<text x="437.60" y="453.8" font-size="11.7" text-anchor="middle" fill="#111">2</text>
<line x1="463.31" y1="431.3" x2="463.31" y2="438.3" stroke="#8c8c8c" stroke-width="1"/>
<text x="463.31" y="453.8" font-size="11.7" text-anchor="middle" fill="#111">5</text>
<line x1="480.33" y1="431.3" x2="480.33" y2="438.3" stroke="#8c8c8c" stroke-width="1"/>
<text x="480.33" y="453.8" font-size="11.7" text-anchor="middle" fill="#111">10</text>
<line x1="501.83" y1="431.3" x2="501.83" y2="438.3" stroke="#8c8c8c" stroke-width="1"/>
<text x="501.83" y="453.8" font-size="11.7" text-anchor="middle" fill="#111">25</text>
<line x1="517.78" y1="431.3" x2="517.78" y2="438.3" stroke="#8c8c8c" stroke-width="1"/>
<text x="517.78" y="453.8" font-size="11.7" text-anchor="middle" fill="#111">50</text>
<line x1="533.62" y1="431.3" x2="533.62" y2="438.3" stroke="#8c8c8c" stroke-width="1"/>
<text x="533.62" y="453.8" font-size="11.7" text-anchor="middle" fill="#111">100</text>
<text x="465.4" y="467.8" font-size="12" text-anchor="middle" fill="#111">Return period (years)</text>
<text transform="translate(360.30,411.50) rotate(-90)" font-size="12" fill="#111" textLength="79.5" lengthAdjust="spacing">Flow (thousand</text>
<text transform="translate(360.30,330.50) rotate(-90)" font-size="12" fill="#111">m</text>
<text transform="translate(354.00,320.00) rotate(-90)" font-size="8.6" fill="#111">3</text>
<text transform="translate(360.30,314.60) rotate(-90)" font-size="12" fill="#111">/</text>
<text transform="translate(360.30,309.40) rotate(-90)" font-size="12" fill="#111">s)</text>
<rect x="398.3" y="285.4" width="97.7" height="41.8" fill="#fff" stroke="#8c8c8c" stroke-width="1"/>
<line x1="408.4" y1="298.8" x2="429.9" y2="298.8" stroke="#DF536B" stroke-width="1"/>
<line x1="408.4" y1="313.3" x2="429.9" y2="313.3" stroke="#2297E6" stroke-width="1" stroke-dasharray="2.6,2.6"/>
<text x="440.6" y="303.5" font-size="11.5" fill="#111">Observed</text>
<text x="440.6" y="317.8" font-size="11.5" fill="#111">Modelled</text>
</svg></body></html>
